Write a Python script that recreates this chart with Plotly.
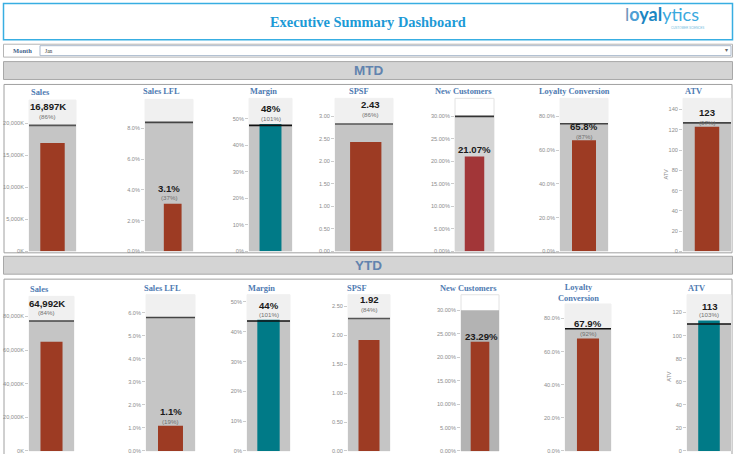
import plotly.graph_objects as go

W, H = 736, 454

# ---------------- data ----------------
metrics = ["Sales", "Sales LFL", "Margin", "SPSF", "New Customers", "Loyalty Conversion", "ATV"]
ytd_titles = ["Sales", "Sales LFL", "Margin", "SPSF", "New Customers", "Loyalty<br>Conversion", "ATV"]

mtd_actual = [16897, 3.1, 48, 2.43, 21.07, 65.8, 123]
mtd_target = [19650, 8.4, 47.5, 2.83, 30.0, 75.6, 126.8]
mtd_pct_of_target = [86, 37, 101, 86, None, 87, 97]

ytd_actual = [64992, 1.1, 44, 1.92, 23.29, 67.9, 113]
ytd_target = [77370, 5.8, 43.6, 2.29, 30.0, 73.8, 110.0]
ytd_pct_of_target = [84, 19, 101, 84, None, 92, 103]

value_format = [",.0f", ".1f", ".0f", ".2f", ".2f", ".1f", ".0f"]
value_suffix = ["K", "%", "%", "", "%", "%", ""]
mtd_tick_step = [5000, 2, 10, 0.5, 5, 20, 20]
ytd_tick_step = [20000, 1, 10, 0.5, 5, 20, 20]

month_selected = "Jan"

# ---------------- styles / layout ----------------
RED = "#9d3b23"
TEAL = "#007a87"
GRAY = "#c5c5c5"
BG = "#f0f0f0"
TITLE_BLUE = "#4f7bb2"
SANS = "Liberation Sans, Arial, sans-serif"
SERIF = "Liberation Serif, Times New Roman, serif"


def fx(x):
    return x / W


def fy(y):
    return 1 - y / H


rows = [
    dict(
        actual=mtd_actual, target=mtd_target, pct=mtd_pct_of_target, step=mtd_tick_step,
        titles=metrics,
        boxes=[(29, 76, 100.7), (145, 193, 100), (249, 292, 99), (335, 393, 99),
               (455, 494, 99), (560, 608, 99), (683, 731, 99)],
        ybot=253, ymax=[23600, 9.9, 57.7, 3.40, 34.0, 90.6, 151],
        title_xy=[(40, 93), (161, 92), (263, 92), (359, 92), (463, 92), (574, 92), (693, 92)],
        lab_dy=[(36.2, 26.4), (14.8, 6.2), (15.4, 6.0), (37.7, 27.7), (6.6, None), (13.9, 3.6), (14.0, 4.6)],
        lab_dx=[-5, 0, 0, 6, 0, 0, 0],
        barw=[0.52, 0.37, 0.51, 0.54, 0.5, 0.5, 0.51],
        barshift=[0, 0.077, 0, 0.03, 0, 0, 0],
        gray=[GRAY, GRAY, GRAY, GRAY, "#d4d4d4", GRAY, GRAY],
        bg=[BG, BG, BG, BG, "white", BG, BG],
        line=["#555555", "#444444", "#111111", "#555555", "#333333", "#444444", "#444444"],
        red=[RED, RED, RED, RED, "#a23638", RED, RED],
        atv_title=(665.7, 175),
    ),
    dict(
        actual=ytd_actual, target=ytd_target, pct=ytd_pct_of_target, step=ytd_tick_step,
        titles=ytd_titles,
        boxes=[(29, 74, 298.3), (146, 195, 296.7), (247, 290, 296.7), (348, 390, 296.7),
               (461, 499, 296.7), (565, 611, 306), (687, 731, 296.7)],
        ybot=454, ymax=[92000, 6.79, 52.4, 2.70, 33.3, 88.7, 135.4],
        title_xy=[(39, 291), (162, 290), (261, 290), (357, 290), (468, 290), (578, 294.5), (696, 290)],
        lab_dy=[(37.8, 29.6), (13.8, 4.6), (14.5, 4.8), (40.6, 30.4), (5.7, None), (15.0, 5.1), (14.4, 6.0)],
        lab_dx=[-5, 0, 0, 0, 1, 0, 0],
        barw=[0.49, 0.51, 0.52, 0.5, 0.49, 0.48, 0.49],
        barshift=[0, 0, 0, 0, 0, 0, 0],
        gray=[GRAY, GRAY, GRAY, GRAY, "#b3b3b3", GRAY, GRAY],
        bg=[BG, BG, BG, BG, "white", BG, BG],
        line=["#444444", "#444444", "#111111", "#555555", None, "#111111", "#111111"],
        red=[RED] * 7,
        atv_title=(669.3, 379),
    ),
]

fig = go.Figure()
layout = dict(
    width=W, height=H, margin=dict(l=0, r=0, t=0, b=0),
    paper_bgcolor="white", plot_bgcolor="rgba(0,0,0,0)",
    barmode="overlay", showlegend=False,
)
shapes = []
annotations = []


# ---- frames, bands, header ----
def rect(x0, y0, x1, y1, line="#a0a0a0", fill="rgba(0,0,0,0)", width=1):
    shapes.append(dict(type="rect", xref="paper", yref="paper",
                       x0=fx(x0), x1=fx(x1), y0=fy(y1), y1=fy(y0),
                       line=dict(color=line, width=width), fillcolor=fill, layer="below"))


def text(x, y, s, size, color, family=SANS, xanchor="center", angle=0, pad=1):
    annotations.append(dict(xref="paper", yref="paper", x=fx(x), y=fy(y), text=s,
                            showarrow=False, xanchor=xanchor, yanchor="middle",
                            textangle=angle, borderpad=pad,
                            font=dict(size=size, color=color, family=family)))


rect(3.5, 3.5, 732.5, 40, line="#38aee2", width=1.5)
text(368, 22, "<b>Executive Summary Dashboard</b>", 14.4, "#1d9ad6", SERIF)
logo = ("<span style='color:#6f93b8'>l</span><span style='color:#4f9fd4'><b>o</b></span>"
        "<b><span style='color:#1b86c2'>yal</span></b><span style='color:#3aa9de'>ytics</span>")
text(662, 14.5, logo, 18, "#3aa9de", "Lato, Liberation Sans, sans-serif", pad=0)
text(687, 28, "CUSTOMER SCIENCES", 3, "#6bbbe0", pad=0)

rect(3.5, 44.5, 732.5, 57.5, line="#b5b5b5")
rect(40, 46, 731, 56, line="#a9b8cc")
text(22, 50.5, "<b>Month</b>", 6.5, "#3f5f8a", SERIF)
text(43, 51, month_selected, 5.5, "#333333", SERIF, xanchor="left")
text(726, 50.5, "▾", 6, "#666666")

for (y0, y1, lab) in [(62, 80, "MTD"), (258, 276, "YTD")]:
    rect(3.5, y0, 732.5, y1, line="#a8a8a8", fill="#d4d4d4")
    text(368, (y0 + y1) / 2, "<b>" + lab + "</b>", 13.5, "#6283ae",
         "Liberation Sans Narrow, Arial Narrow, Liberation Sans, sans-serif")

rect(4, 85, 732, 254.5, line="#a0a0a0")
rect(4, 281, 732, 470, line="#a0a0a0")

# ---- charts ----
k = 0
for r in rows:
    for i in range(len(metrics)):
        k += 1
        xa = "x" if k == 1 else f"x{k}"
        ya = "y" if k == 1 else f"y{k}"
        xkey = "xaxis" if k == 1 else f"xaxis{k}"
        ykey = "yaxis" if k == 1 else f"yaxis{k}"
        x0, x1, ytop = r["boxes"][i]
        ybot = r["ybot"]
        ymax = r["ymax"][i]

        layout[xkey] = dict(domain=[fx(x0), fx(x1)], anchor=ya, range=[-0.5, 0.5],
                            visible=False, fixedrange=True)
        layout[ykey] = dict(domain=[max(0.0, fy(ybot)), fy(ytop)], anchor=xa, range=[0, ymax],
                            tick0=0, dtick=r["step"][i], tickformat=value_format[i],
                            ticksuffix=value_suffix[i], ticks="outside", ticklen=3,
                            tickwidth=0.6, tickcolor="#cccccc", showgrid=False,
                            zeroline=False, showline=False, fixedrange=True,
                            tickfont=dict(size=5.6, color="#8c8c8c", family=SANS))

        # plot-area background
        shapes.append(dict(type="rect", xref=f"{xa} domain", yref=f"{ya} domain",
                           x0=0, x1=1, y0=0, y1=1, fillcolor=r["bg"][i],
                           line=dict(color="#e2e2e2" if r["bg"][i] == "white" else r["bg"][i], width=1),
                           layer="below"))

        act = r["actual"][i]
        tgt = r["target"][i]
        color = TEAL if act >= tgt else r["red"][i]
        fig.add_trace(go.Bar(x=[0], y=[tgt], width=[1.0], marker=dict(color=r["gray"][i], line=dict(width=0)),
                             xaxis=xa, yaxis=ya, hoverinfo="skip"))
        w = r["barw"][i]
        fig.add_trace(go.Bar(x=[0], y=[act], width=[w], offset=-w / 2 + r["barshift"][i],
                             marker=dict(color=color, line=dict(width=0)),
                             xaxis=xa, yaxis=ya, hoverinfo="skip"))
        if r["line"][i]:
            fig.add_trace(go.Scatter(x=[-0.5, 0.5], y=[tgt, tgt], mode="lines",
                                     line=dict(color=r["line"][i], width=1.6),
                                     xaxis=xa, yaxis=ya, hoverinfo="skip", cliponaxis=False))

        # value labels
        dy_main, dy_sub = r["lab_dy"][i]
        main_txt = format(act, value_format[i]) + value_suffix[i]
        annotations.append(dict(xref=xa, yref=ya, x=0, y=act, text="<b>" + main_txt + "</b>",
                                showarrow=False, yanchor="middle", xanchor="center",
                                xshift=r["lab_dx"][i], yshift=dy_main, borderpad=0,
                                font=dict(size=9.6, color="#1a1a1a", family=SANS)))
        if r["pct"][i] is not None and dy_sub is not None:
            annotations.append(dict(xref=xa, yref=ya, x=0, y=act, text=f"({r['pct'][i]}%)",
                                    showarrow=False, yanchor="middle", xanchor="center",
                                    xshift=r["lab_dx"][i], yshift=dy_sub, borderpad=0,
                                    font=dict(size=6.2, color="#707070", family=SANS)))
        # chart title
        tx, ty = r["title_xy"][i]
        text(tx, ty, "<b>" + r["titles"][i] + "</b>", 8.4, TITLE_BLUE, SERIF)
        if metrics[i] == "ATV":
            ax, ay = r["atv_title"]
            text(ax, ay, "ATV", 5.5, "#8c8c8c", SANS, angle=-90)

layout["shapes"] = shapes
layout["annotations"] = annotations
fig.update_layout(**layout)

fig.write_html("out.html", config={"displayModeBar": False},
               post_script="document.body.style.margin='0';document.body.style.overflow='hidden';")
